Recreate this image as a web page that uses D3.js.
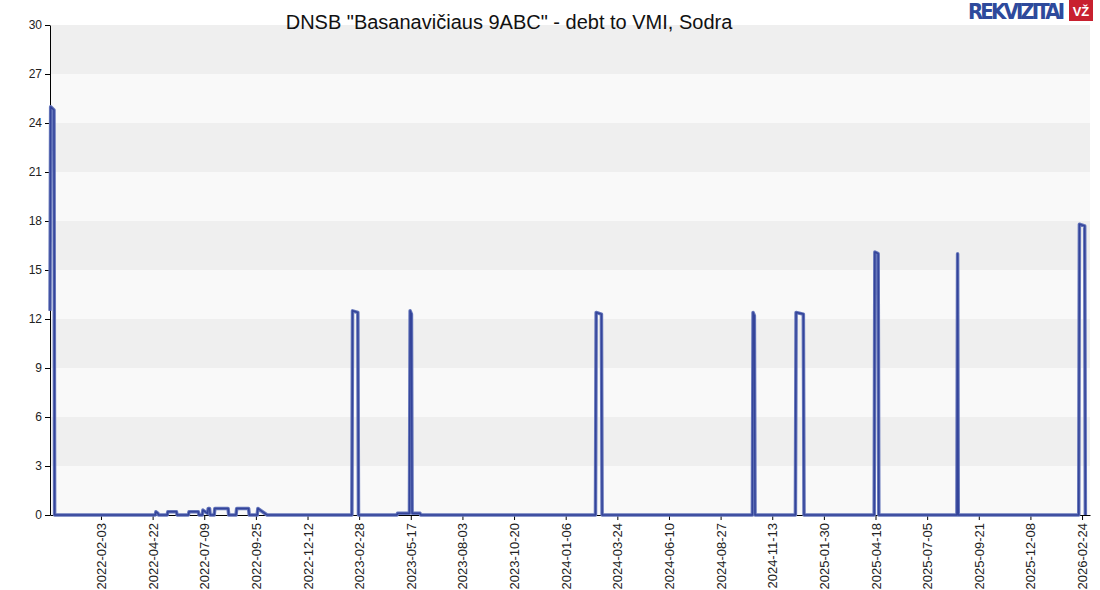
<!DOCTYPE html>
<html><head><meta charset="utf-8">
<script src="https://cdn.jsdelivr.net/npm/d3@7"></script>
<style>body{margin:0;background:#fff;font-family:Arial,"Liberation Sans",sans-serif}</style>
</head><body><svg id="c" width="1100" height="590"></svg>
<script>
const dates = ["2021-11-18","2021-11-19","2021-11-24","2021-11-25","2022-04-26","2022-04-27","2022-04-30","2022-05-01","2022-05-14","2022-05-15","2022-05-28","2022-05-29","2022-06-15","2022-06-16","2022-06-30","2022-07-01","2022-07-06","2022-07-07","2022-07-14","2022-07-15","2022-07-17","2022-07-18","2022-07-24","2022-07-25","2022-08-14","2022-08-15","2022-08-26","2022-08-27","2022-09-14","2022-09-15","2022-09-27","2022-09-28","2022-10-12","2022-10-13","2022-10-14","2023-02-17","2023-02-18","2023-02-26","2023-02-27","2023-04-26","2023-04-27","2023-05-15","2023-05-16","2023-05-18","2023-05-19","2023-05-31","2023-06-01","2024-02-20","2024-02-21","2024-02-29","2024-03-01","2024-10-14","2024-10-15","2024-10-17","2024-10-18","2024-12-18","2024-12-19","2024-12-30","2024-12-31","2025-04-16","2025-04-17","2025-04-22","2025-04-23","2025-08-19","2025-08-20","2025-08-21","2026-02-19","2026-02-20","2026-02-28","2026-03-01"];
const values = [12.5,25,24.8,0,0,0.2,0.1,0,0,0.2,0.2,0,0,0.2,0.2,0,0,0.3,0.1,0.4,0.4,0,0,0.4,0.4,0,0,0.4,0.4,0,0,0.4,0,0,0,0,12.5,12.4,0,0,0.1,0.1,12.5,12.3,0.1,0.1,0,0,12.4,12.3,0,0,12.4,12.2,0,0,12.4,12.3,0,0,16.1,16.0,0,0,16.0,0,0,17.8,17.7,0];
const tickLabels = ["2022-02-03","2022-04-22","2022-07-09","2022-09-25","2022-12-12","2023-02-28","2023-05-17","2023-08-03","2023-10-20","2024-01-06","2024-03-24","2024-06-10","2024-08-27","2024-11-13","2025-01-30","2025-04-18","2025-07-05","2025-09-21","2025-12-08","2026-02-24"];
const yTicks = [0,3,6,9,12,15,18,21,24,27,30];
const title = 'DNSB "Basanavičiaus 9ABC" - debt to VMI, Sodra';

const p = d3.timeParse("%Y-%m-%d");
const svg = d3.select("#c");
const L=50,R=1090,T=25,B=515;
const x = d3.scaleTime().domain([p("2021-11-18"),p("2026-03-08")]).range([L,R]);
const y = d3.scaleLinear().domain([0,30]).range([B,T]);
svg.append("rect").attr("x",L).attr("y",T).attr("width",R-L).attr("height",B-T).attr("fill","#f9f9f9");
for(let i=0;i<10;i++){ if(i%2==1) svg.append("rect").attr("x",L).attr("y",y(yTicks[i+1])).attr("width",R-L).attr("height",y(yTicks[i])-y(yTicks[i+1])).attr("fill","#efefef"); }
const ya = svg.append("g").attr("transform",`translate(${L},0)`).call(d3.axisLeft(y).tickValues(yTicks).tickSize(5).tickSizeOuter(0));
ya.selectAll("text").attr("font-size",12).attr("fill","#222").attr("font-family","Arial,Liberation Sans");
const xa = svg.append("g").attr("transform",`translate(0,${B})`).call(d3.axisBottom(x).tickValues(tickLabels.map(p)).tickFormat(d3.timeFormat("%Y-%m-%d")).tickSize(5).tickSizeOuter(0));
xa.selectAll("text").attr("font-size",13).attr("fill","#222").attr("font-family","Arial,Liberation Sans")
  .attr("transform","rotate(-90)").attr("text-anchor","end").attr("dx","-8").attr("dy","0.35em").attr("y",0).attr("x",0);
svg.selectAll(".domain").attr("stroke","#000");
const pts = dates.map((d,i)=>[x(p(d)),y(values[i])]);
const line = d3.line();
svg.append("path").attr("d",line(pts)).attr("fill","none").attr("stroke","#6677bb").attr("stroke-width",3.5).attr("stroke-linejoin","round");
svg.append("path").attr("d",line(pts)).attr("fill","none").attr("stroke","#34449a").attr("stroke-width",1.5).attr("stroke-linejoin","round");
svg.append("text").attr("x",509).attr("y",29).attr("text-anchor","middle").attr("font-size",20).attr("fill","#111").text(title);
svg.append("text").attr("x",968).attr("y",19).attr("font-size",22).attr("font-weight","bold").attr("fill","#2e4a9c").attr("textLength",97).attr("font-family","DejaVu Sans Condensed,Arial").text("REKVIZITAI");
svg.append("rect").attr("x",1069).attr("y",0).attr("width",24).attr("height",21).attr("fill","#c8202f");
svg.append("text").attr("x",1081).attr("y",16).attr("text-anchor","middle").attr("font-size",13).attr("font-weight","bold").attr("fill","#fff").text("VŽ");
</script></body></html>
